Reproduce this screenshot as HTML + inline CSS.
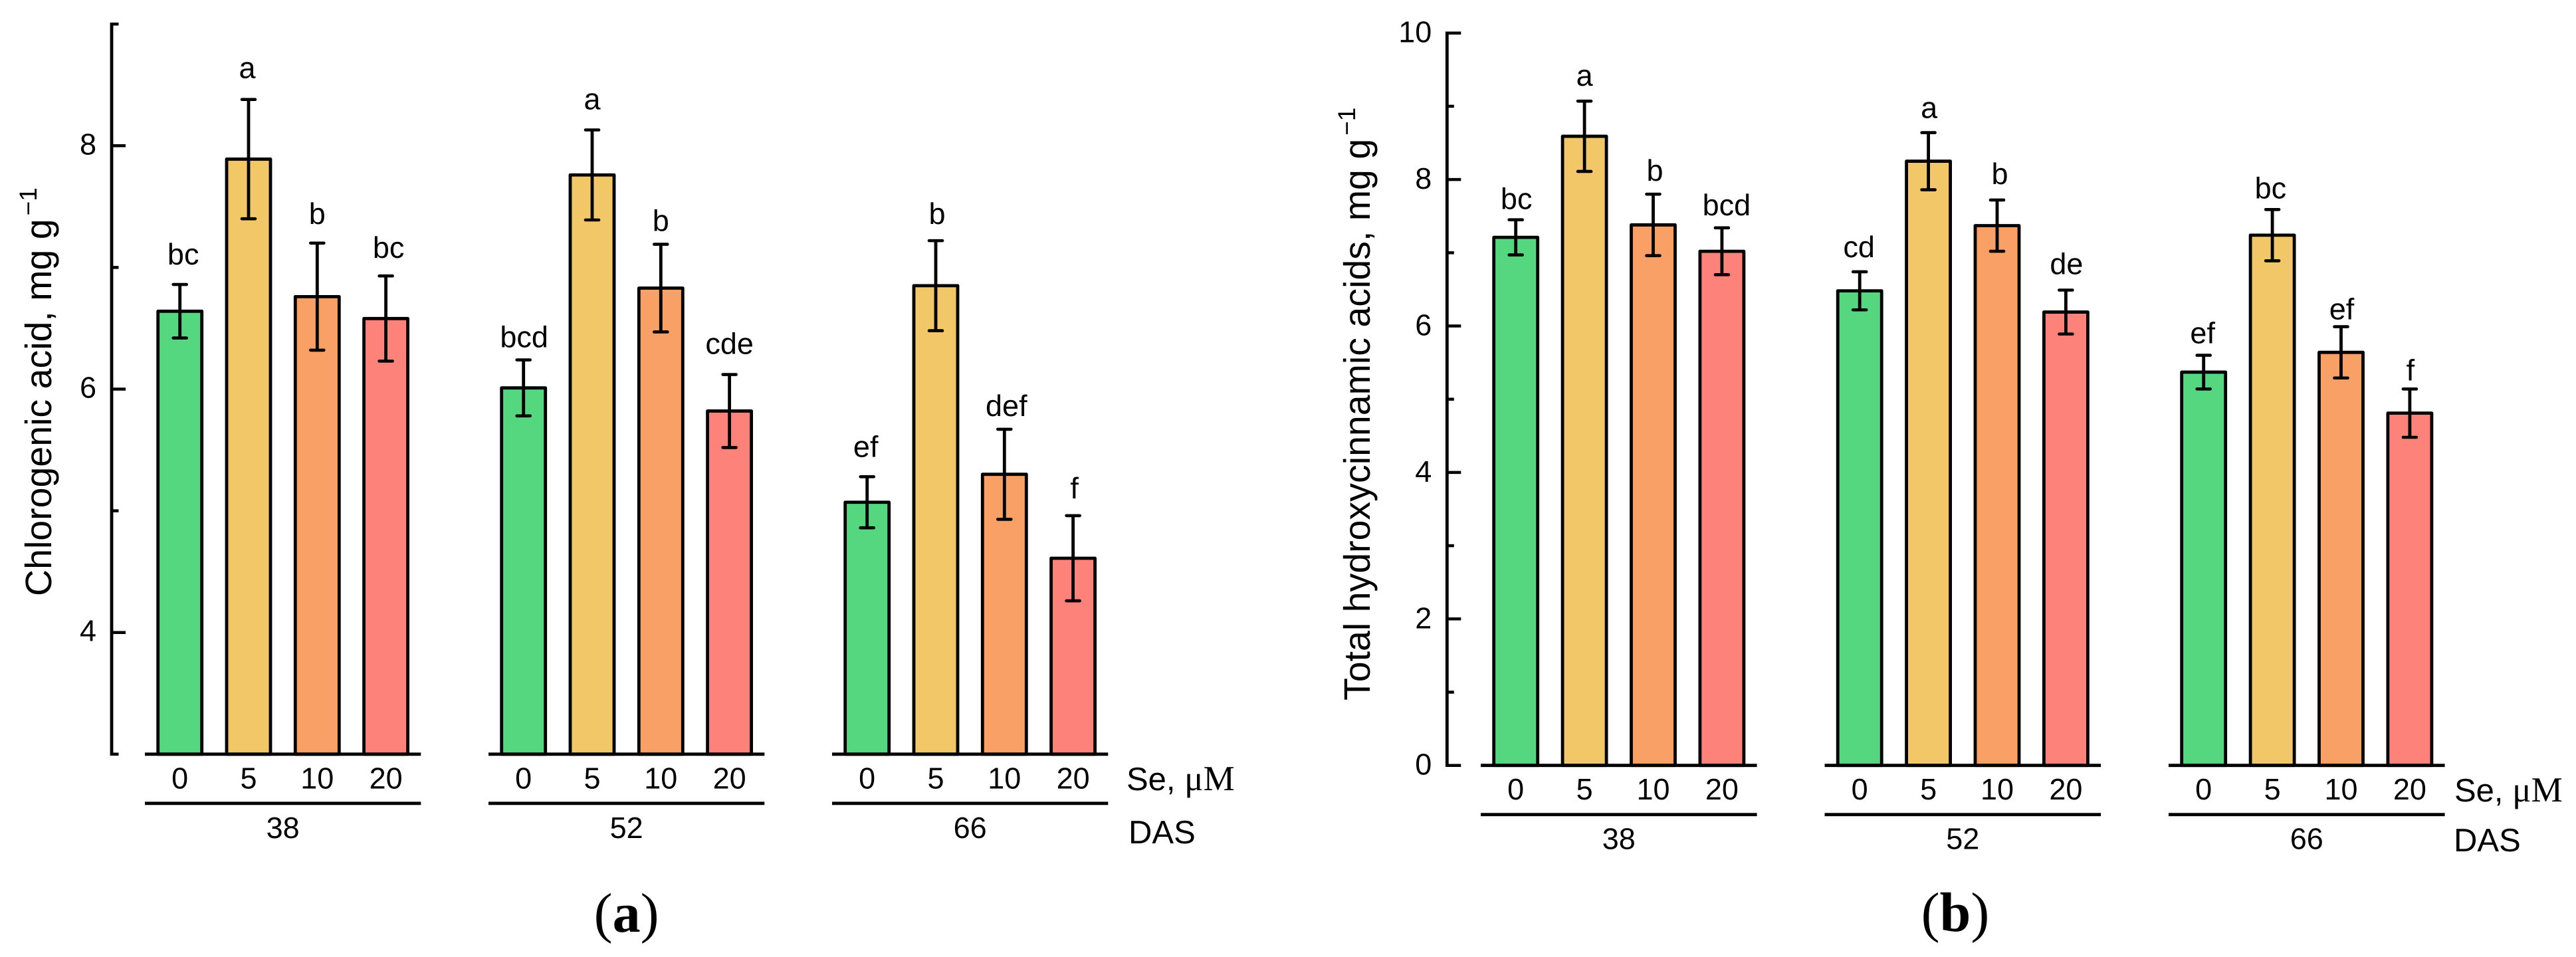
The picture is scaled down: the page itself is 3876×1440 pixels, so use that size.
<!DOCTYPE html>
<html lang="en">
<head>
<meta charset="utf-8">
<title>Chlorogenic and total hydroxycinnamic acids</title>
<style>
  html, body { margin: 0; padding: 0; background: #fff; }
  svg { display: block; }
  text { font-family: "Liberation Sans", sans-serif; fill: #000; text-rendering: geometricPrecision; }
  .serif { font-family: "Liberation Serif", serif; }
</style>
</head>
<body>
<svg id="figure" xmlns="http://www.w3.org/2000/svg" width="3876" height="1440" viewBox="0 0 3876 1440">
  <rect x="0" y="0" width="3876" height="1440" fill="#ffffff"></rect>

  <text transform="translate(77,897) rotate(-90)" font-size="55.5">Chlorogenic acid, mg g<tspan dx="5" dy="-22" font-size="37">&#8722;1</tspan></text>
  <text transform="translate(2061,1054) rotate(-90)" font-size="55.5">Total hydroxycinnamic acids, mg g<tspan dx="5" dy="-22" font-size="37">&#8722;1</tspan></text>

  <text x="1695" y="1189" font-size="49">Se, <tspan class="serif" font-size="53">&#956;M</tspan></text>
  <text x="1698" y="1269" font-size="49">DAS</text>
  <text x="3693" y="1205.8" font-size="49">Se, <tspan class="serif" font-size="53">&#956;M</tspan></text>
  <text x="3692" y="1281" font-size="49">DAS</text>

  <text class="serif" x="942.6" y="1402" font-size="84" text-anchor="middle">(<tspan font-weight="bold" class="serif">a</tspan>)</text>
  <text class="serif" x="2942" y="1401" font-size="84" text-anchor="middle">(<tspan font-weight="bold" class="serif">b</tspan>)</text>
</svg>

<script>
// ---- shared categories ----
const dasGroups = ['38', '52', '66'];
const seDoses = ['0', '5', '10', '20'];
const barColors = ['#54D77E', '#F2C768', '#F9A067', '#FD8279'];

// ---- panel (a): chlorogenic acid, mg/g ----
const meansA = [
  [6.64, 7.89, 6.76, 6.58],
  [6.01, 7.76, 6.83, 5.82],
  [5.07, 6.85, 5.30, 4.61]
];
const errorsA = [
  [0.22, 0.49, 0.44, 0.35],
  [0.23, 0.37, 0.36, 0.30],
  [0.21, 0.37, 0.37, 0.35]
];
const lettersA = [
  ['bc', 'a', 'b', 'bc'],
  ['bcd', 'a', 'b', 'cde'],
  ['ef', 'b', 'def', 'f']
];
const majorTicksA = [4, 6, 8];
const minorTicksA = [3, 5, 7, 9];

// ---- panel (b): total hydroxycinnamic acids, mg/g ----
const meansB = [
  [7.21, 8.59, 7.38, 7.02],
  [6.48, 8.25, 7.37, 6.19],
  [5.37, 7.24, 5.64, 4.81]
];
const errorsB = [
  [0.24, 0.48, 0.42, 0.32],
  [0.26, 0.39, 0.35, 0.30],
  [0.23, 0.35, 0.35, 0.33]
];
const lettersB = [
  ['bc', 'a', 'b', 'bcd'],
  ['cd', 'a', 'b', 'de'],
  ['ef', 'bc', 'ef', 'f']
];
const majorTicksB = [0, 2, 4, 6, 8, 10];
const minorTicksB = [1, 3, 5, 7, 9];

// ---- layout only: letter nudge [dx, gap above the error cap] ----
const letterNudgeA = [
  [[5, 30], [-2, 32], [0, 29], [4, 27]],
  [[1, 19], [0, 31], [0, 20], [0, 31]],
  [[-2, 30], [2, 25], [3, 20], [2, 26]]
];
const letterNudgeB = [
  [[1, 16], [0, 23], [2.5, 20], [7, 19]],
  [[-1, 22], [1, 22], [4, 24], [1, 24]],
  [[-1.5, 18], [-2.7, 17], [1, 11], [1, 12.6]]
];

const svg = document.getElementById('figure');
const NS = 'http://www.w3.org/2000/svg';

function make(tag, attrs, text) {
  const el = document.createElementNS(NS, tag);
  for (const k in attrs) el.setAttribute(k, attrs[k]);
  if (text !== undefined) el.textContent = text;
  svg.appendChild(el);
  return el;
}

function hLine(x1, x2, y, width, cap) {
  return make('line', { x1: x1, x2: x2, y1: y, y2: y, stroke: '#000', 'stroke-width': width, 'stroke-linecap': cap || 'butt' });
}

function vLine(x, y1, y2, width) {
  return make('line', { x1: x, x2: x, y1: y1, y2: y2, stroke: '#000', 'stroke-width': width });
}

function drawChart(p) {
  // Axis functions
  const yScale = v => p.yRef - (v - p.vRef) * p.pxPerUnit;
  const xScale = (g, i) => p.x0 + i * p.barStep + g * p.groupStep;

  // Y axis
  const allTicks = p.majorTicks.concat(p.minorTicks);
  const axis = vLine(p.axisX, yScale(Math.max.apply(null, allTicks)) - 2.2, yScale(Math.min.apply(null, allTicks)) + 2.2, 4.8);
  
  

  p.majorTicks.forEach(v => {
    const t = hLine(p.axisX, p.axisX + 21, yScale(v), 4.5);
    
    
    const lab = make('text', { x: p.axisX - p.labelGap, y: yScale(v) + p.labelDrop, 'font-size': 45, 'text-anchor': 'end' }, String(v));
    
    
  });
  p.minorTicks.forEach(v => {
    const t = hLine(p.axisX, p.axisX + 10.5, yScale(v), 4.5);
    
    
  });

  // Bars and error bars
  const baseY = yScale(p.baseValue);
  p.means.forEach((groupVals, g) => {
    groupVals.forEach((m, i) => {
      const cx = xScale(g, i);
      const top = yScale(m);
      const bar = make('rect', {
        x: cx - 33, y: top, width: 66, height: baseY - top,
        fill: barColors[i], stroke: '#000', 'stroke-width': 4.8, 'stroke-linejoin': 'round'
      });
      
      

      const e = p.errors[g][i];
      const hi = yScale(m + e);
      const lo = yScale(m - e);
      const stem = vLine(cx, hi, lo, 4.8);
      
      
      const capTop = hLine(cx - 10, cx + 10, hi, 4.6, 'round');
      
      
      const capBottom = hLine(cx - 10, cx + 10, lo, 4.6, 'round');
      
      

      const nudge = p.nudges[g][i];
      const letter = make('text', { x: cx + nudge[0], y: hi - nudge[1], 'font-size': 45, 'text-anchor': 'middle' }, p.letters[g][i]);
      
      

      const dose = make('text', { x: cx, y: baseY + 51.5, 'font-size': 45, 'text-anchor': 'middle' }, seDoses[i]);
      
      
    });

    // Group rules and DAS label
    const left = xScale(g, 0) - 52.7;
    const right = xScale(g, 3) + 52.7;
    const rule = hLine(left, right, baseY, 4.8);
    
    
    const rule2 = hLine(left, right, baseY + 74, 4.8);
    
    
    const das = make('text', { x: (left + right) / 2, y: baseY + 126, 'font-size': 45, 'text-anchor': 'middle' }, dasGroups[g]);
    
    
  });
}

drawChart({
  means: meansA, errors: errorsA, letters: lettersA, nudges: letterNudgeA,
  majorTicks: majorTicksA, minorTicks: minorTicksA,
  yRef: 219.3, vRef: 8, pxPerUnit: 183.1, baseValue: 3,
  axisX: 168, labelGap: 23, labelDrop: 13,
  x0: 270.7, barStep: 103.3, groupStep: 517
});

drawChart({
  means: meansB, errors: errorsB, letters: lettersB, nudges: letterNudgeB,
  majorTicks: majorTicksB, minorTicks: minorTicksB,
  yRef: 1151.7, vRef: 0, pxPerUnit: 110.2, baseValue: 0,
  axisX: 2177.3, labelGap: 23, labelDrop: 14,
  x0: 2280.7, barStep: 103.4, groupStep: 517.5
});
</script>
</body>
</html>
